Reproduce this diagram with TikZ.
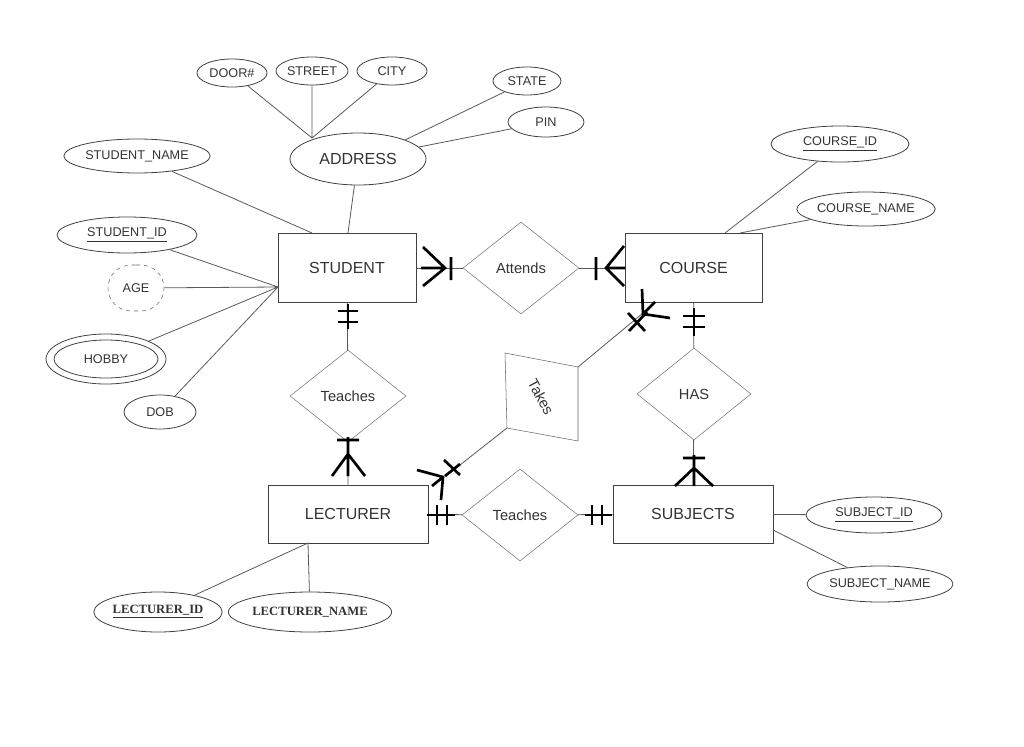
\documentclass[tikz,border=0pt]{standalone}
\usepackage{fontspec}
\setmainfont{Liberation Sans}
\newfontfamily\serifb{Liberation Serif}
\usetikzlibrary{shapes.geometric,shapes.misc}
\begin{document}
\begin{tikzpicture}[x=0.75pt,y=-0.75pt,
  e/.style 2 args={ellipse,draw=black!75,line width=0.6pt,minimum width=#1*0.75pt,minimum height=#2*0.75pt,inner sep=0pt,font=\fontsize{9.5}{11}\selectfont,text=black!80},
  ent/.style={rectangle,draw=black!75,line width=0.6pt,font=\fontsize{12}{14}\selectfont,text=black!80,inner sep=0pt},
  rel/.style 2 args={diamond,draw=black!55,minimum width=#1*0.75pt,minimum height=#2*0.75pt,inner sep=0pt,aspect=1.26,font=\fontsize{11}{13}\selectfont,text=black!80},
  ln/.style={draw=black!65,line width=0.6pt},
  cf/.style={draw=black,line width=2pt}]
\useasboundingbox (0,0) rectangle (1024,746);
% address
\node[e={70}{28}] (door) at (232,73) {DOOR\#};
\node[e={72}{28}] (street) at (312,71) {STREET};
\node[e={70}{28}] (city) at (392,71) {CITY};
\node[e={68}{28}] (state) at (527,81) {STATE};
\node[e={76}{30}] (pin) at (546,122) {PIN};
\node[e={136}{52},font=\fontsize{12}{14}\selectfont] (addr) at (358,159) {ADDRESS};
\coordinate (aj) at (312,138);
\draw[ln] (door) -- (aj) (street) -- (aj) (city) -- (aj);
\draw[ln] (state) -- (405,140) (pin) -- (addr);
% student
\node[ent,minimum width=138*0.75pt,minimum height=69*0.75pt] (stu) at (347,268) {STUDENT};
\node[e={144}{34}] (sname) at (137,156) {STUDENT\_NAME};
\node[e={140}{36}] (sid) at (127,235) {\underline{STUDENT\_ID}};
\node[rounded rectangle,draw=black!60,dashed,minimum width=56*0.75pt,minimum height=46*0.75pt,inner sep=0pt,font=\fontsize{9.5}{11}\selectfont,text=black!80] (age) at (136,288) {AGE};
\node[e={120}{50}] (hobby) at (106,359) {};
\node[e={104}{38}] at (106,359) {HOBBY};
\node[e={72}{34}] (dob) at (160,412) {DOB};
\coordinate (sj) at (278,287);
\draw[ln] (addr) -- (348,233);
\draw[ln] (sname) -- (312,233);
\draw[ln] (sid) -- (sj) (age) -- (sj) (hobby) -- (sj) (dob) -- (sj);
% course
\node[ent,minimum width=137*0.75pt,minimum height=69*0.75pt] (crs) at (693.5,268) {COURSE};
\node[e={138}{36}] (cid) at (840,144) {\underline{COURSE\_ID}};
\node[e={136}{34}] (cname) at (866,209) {COURSE\_NAME};
\draw[ln] (cid) -- (725,233) (cname) -- (740,233);
% lecturer, subjects
\node[ent,minimum width=160*0.75pt,minimum height=58*0.75pt] (lec) at (348,514) {LECTURER};
\node[ent,minimum width=160*0.75pt,minimum height=58*0.75pt] (sub) at (693,514) {SUBJECTS};
\node[e={136}{36}] (subid) at (874,515) {\underline{SUBJECT\_ID}};
\node[e={146}{36}] (subname) at (880,584) {SUBJECT\_NAME};
\draw[ln] (sub) -- (subid) (773,530) -- (subname);
\node[e={120}{40},font=\serifb\bfseries\fontsize{9.5}{11}\selectfont] (lid) at (158,612) {\underline{LECTURER\_ID}};
\node[e={156}{40},font=\serifb\bfseries\fontsize{9.5}{11}\selectfont] (lname) at (310,612) {LECTURER\_NAME};
\coordinate (lj) at (308,543);
\draw[ln] (lj) -- (lid) (lj) -- (lname);
% relationships
\node[rel={116}{92}] (att) at (521,268) {Attends};
\node[rel={116}{92}] (teach1) at (348,396) {Teaches};
\node[rel={114}{92}] (has) at (694,394) {HAS};
\node[rel={116}{92}] (teach2) at (520,515) {Teaches};
\coordinate (t1) at (505,353); \coordinate (t2) at (578,367);
\coordinate (t3) at (578,441); \coordinate (t4) at (507,428);
\draw[draw=black!60] (t1) -- (t2) -- (t3) -- (t4) -- cycle;
\node[rotate=-62,font=\fontsize{11}{13}\selectfont,text=black!80,inner sep=0pt] (takes) at (541,397) {Takes};
% connectors
\draw[ln] (stu) -- (att) (att) -- (crs);
\draw[ln] (stu) -- (teach1) (teach1) -- (lec);
\draw[ln] (crs) -- (has) (has) -- (sub);
\draw[ln] (lec) -- (teach2) (teach2) -- (sub);
\draw[ln] (t2) -- (643,313) (t4) -- (446,476);
% crow's feet
\draw[cf] (423,247) -- (445,268) -- (423,286) (421,268) -- (445,268) (451,257) -- (451,280);
\draw[cf] (596,257) -- (596,280) (624,246) -- (606,268) -- (624,286) (606,268) -- (625,268);
\draw[cf] (338,311) -- (358,311) (338,322) -- (358,322) (348,304) -- (348,329);
\draw[cf] (337,440) -- (359,440) (348,437) -- (348,476) (332,476) -- (348,454) -- (365,476);
\draw[cf] (683,316) -- (705,316) (683,327) -- (705,327) (694,308) -- (694,336);
\draw[cf] (683,458) -- (705,458) (694,455) -- (694,486) (675,486) -- (694,468) -- (713,486);
\draw[cf] (628,313) -- (645,331) (629,331) -- (647,312) (642,289) -- (643,314) -- (670,318) (643,314) -- (655,302);
\draw[cf] (444,460) -- (460,475) (445,476) -- (460,464) (417,470) -- (443,477) -- (441,500) (443,477) -- (432,486);
\draw[cf] (437,505) -- (437,525) (447,505) -- (447,525) (427,515) -- (455,515);
\draw[cf] (592,505) -- (592,525) (602,505) -- (602,525) (585,515) -- (612,515);
\end{tikzpicture}
\end{document}
